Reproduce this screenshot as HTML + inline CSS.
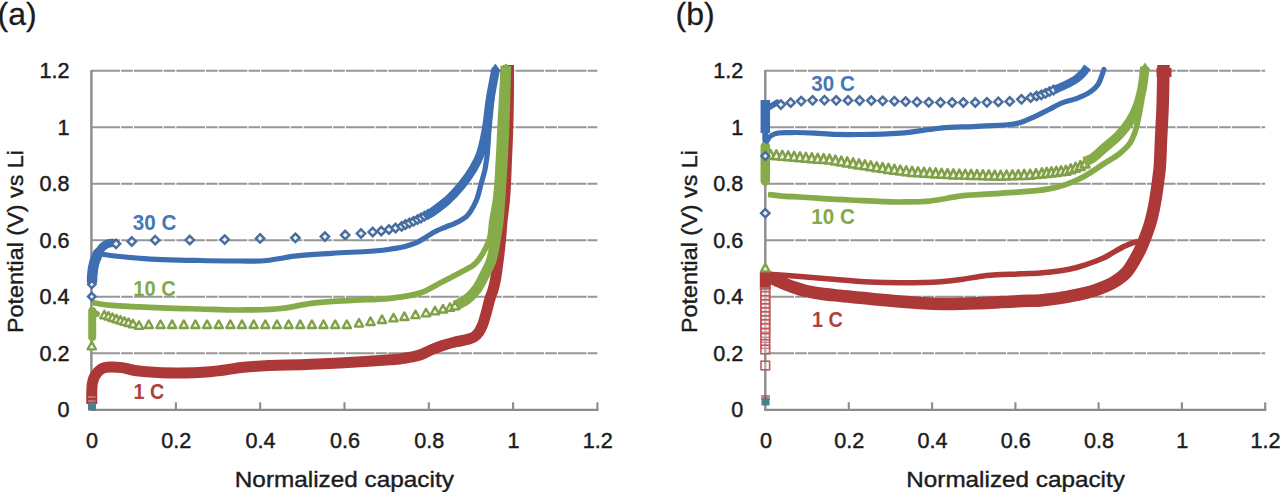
<!DOCTYPE html>
<html><head><meta charset="utf-8"><title>Potential vs normalized capacity</title>
<style>
html,body{margin:0;padding:0;background:#fff;width:1280px;height:492px;overflow:hidden}
svg{display:block}
text{font-family:"Liberation Sans",sans-serif}
.tk{font-size:21.6px;fill:#1c1c1c;stroke:#1c1c1c;stroke-width:0.45px}
.ax{font-size:22.4px;fill:#1c1c1c;stroke:#1c1c1c;stroke-width:0.4px}
.pl{font-size:32px;fill:#1c1c1c;stroke:#1c1c1c;stroke-width:0.3px}
.sl{font-size:22px;font-weight:bold}
</style></head><body>
<svg width="1280" height="492" viewBox="0 0 1280 492">
<rect width="1280" height="492" fill="#fff"/>
<line x1="91.6" y1="353.3" x2="597.4" y2="353.3" stroke="#979797" stroke-width="2" stroke-dasharray="28.5 1.2 11.5 1.2"/>
<line x1="91.6" y1="296.8" x2="597.4" y2="296.8" stroke="#979797" stroke-width="2" stroke-dasharray="28.5 1.2 11.5 1.2"/>
<line x1="91.6" y1="240.3" x2="597.4" y2="240.3" stroke="#979797" stroke-width="2" stroke-dasharray="28.5 1.2 11.5 1.2"/>
<line x1="91.6" y1="183.8" x2="597.4" y2="183.8" stroke="#979797" stroke-width="2" stroke-dasharray="28.5 1.2 11.5 1.2"/>
<line x1="91.6" y1="127.3" x2="597.4" y2="127.3" stroke="#979797" stroke-width="2" stroke-dasharray="28.5 1.2 11.5 1.2"/>
<line x1="91.6" y1="70.8" x2="597.4" y2="70.8" stroke="#979797" stroke-width="2" stroke-dasharray="28.5 1.2 11.5 1.2"/>
<line x1="91.39999999999999" y1="70" x2="91.39999999999999" y2="410.8" stroke="#8c8c8c" stroke-width="2.4"/>
<line x1="90.39999999999999" y1="409.8" x2="598.4" y2="409.8" stroke="#8c8c8c" stroke-width="2.3"/>
<line x1="175.9" y1="402.3" x2="175.9" y2="409.8" stroke="#8c8c8c" stroke-width="2.1"/>
<line x1="260.2" y1="402.3" x2="260.2" y2="409.8" stroke="#8c8c8c" stroke-width="2.1"/>
<line x1="344.5" y1="402.3" x2="344.5" y2="409.8" stroke="#8c8c8c" stroke-width="2.1"/>
<line x1="428.8" y1="402.3" x2="428.8" y2="409.8" stroke="#8c8c8c" stroke-width="2.1"/>
<line x1="513.1" y1="402.3" x2="513.1" y2="409.8" stroke="#8c8c8c" stroke-width="2.1"/>
<line x1="597.4" y1="402.3" x2="597.4" y2="409.8" stroke="#8c8c8c" stroke-width="2.1"/>
<line x1="765.5" y1="353.3" x2="1265.2" y2="353.3" stroke="#979797" stroke-width="2" stroke-dasharray="28.5 1.2 11.5 1.2"/>
<line x1="765.5" y1="296.8" x2="1265.2" y2="296.8" stroke="#979797" stroke-width="2" stroke-dasharray="28.5 1.2 11.5 1.2"/>
<line x1="765.5" y1="240.3" x2="1265.2" y2="240.3" stroke="#979797" stroke-width="2" stroke-dasharray="28.5 1.2 11.5 1.2"/>
<line x1="765.5" y1="183.8" x2="1265.2" y2="183.8" stroke="#979797" stroke-width="2" stroke-dasharray="28.5 1.2 11.5 1.2"/>
<line x1="765.5" y1="127.3" x2="1265.2" y2="127.3" stroke="#979797" stroke-width="2" stroke-dasharray="28.5 1.2 11.5 1.2"/>
<line x1="765.5" y1="70.8" x2="1265.2" y2="70.8" stroke="#979797" stroke-width="2" stroke-dasharray="28.5 1.2 11.5 1.2"/>
<line x1="765.3" y1="70" x2="765.3" y2="410.8" stroke="#8c8c8c" stroke-width="2.4"/>
<line x1="764.3" y1="409.8" x2="1266.2" y2="409.8" stroke="#8c8c8c" stroke-width="2.3"/>
<line x1="848.8" y1="402.3" x2="848.8" y2="409.8" stroke="#8c8c8c" stroke-width="2.1"/>
<line x1="932.1" y1="402.3" x2="932.1" y2="409.8" stroke="#8c8c8c" stroke-width="2.1"/>
<line x1="1015.4" y1="402.3" x2="1015.4" y2="409.8" stroke="#8c8c8c" stroke-width="2.1"/>
<line x1="1098.6" y1="402.3" x2="1098.6" y2="409.8" stroke="#8c8c8c" stroke-width="2.1"/>
<line x1="1181.9" y1="402.3" x2="1181.9" y2="409.8" stroke="#8c8c8c" stroke-width="2.1"/>
<line x1="1265.2" y1="402.3" x2="1265.2" y2="409.8" stroke="#8c8c8c" stroke-width="2.1"/>
<path d="M91.8,404.0 C91.8,400.0 91.6,396.0 91.8,392.0 C91.9,389.0 91.8,385.9 92.4,383.0 C92.9,380.6 93.6,378.1 94.8,376.0 C95.9,374.0 97.5,371.9 99.3,370.5 C100.9,369.2 103.0,368.2 105.0,367.6 C107.2,366.9 109.7,367.0 112.0,366.9 C115.3,366.8 118.7,367.2 122.0,367.6 C126.4,368.2 130.6,369.8 135.0,370.5 C139.0,371.1 143.0,371.4 147.0,371.8 C157.0,372.7 167.0,373.0 177.0,373.0 C188.0,373.0 199.0,372.7 210.0,371.8 C221.4,370.9 232.6,368.5 244.0,367.3 C266.2,365.0 288.7,365.4 311.0,364.3 C324.7,363.7 338.3,363.1 352.0,362.3 C364.7,361.6 377.3,360.8 390.0,359.8 C393.3,359.5 396.7,359.4 400.0,359.0 C403.5,358.6 407.0,357.9 410.5,357.2 C414.1,356.4 417.8,355.7 421.3,354.5 C425.0,353.2 428.4,351.0 432.0,349.5 C435.5,348.0 439.1,346.7 442.7,345.5 C446.7,344.2 450.9,343.0 455.0,342.0 C459.0,341.0 463.1,340.7 467.0,339.5 C469.4,338.8 472.0,338.3 474.0,337.0 C475.9,335.8 477.6,333.9 479.0,332.0 C480.5,329.9 481.5,327.4 482.5,325.0 C483.9,321.6 484.8,317.9 485.8,314.4 C487.5,308.7 488.6,302.9 490.4,297.3 C491.2,294.8 492.2,292.5 493.0,290.0 C495.9,281.0 496.7,271.4 498.0,262.0 C499.0,254.7 499.8,247.3 500.5,240.0 C501.2,233.3 501.5,226.7 502.2,220.0 C502.9,213.3 503.9,206.7 504.5,200.0 C505.7,186.7 505.9,173.3 506.5,160.0 C507.0,149.0 507.5,138.0 507.8,127.0 C508.2,114.7 508.4,102.3 508.5,90.0 C508.6,81.7 508.5,73.3 508.5,65.0" fill="none" stroke="#ad3838" stroke-width="11" stroke-linecap="butt" stroke-linejoin="round"/>
<line x1="88" y1="397" x2="95.5" y2="397" stroke="#fff" stroke-opacity="0.55" stroke-width="1"/>
<line x1="88" y1="401" x2="95.5" y2="401" stroke="#fff" stroke-opacity="0.55" stroke-width="1"/>
<path d="M92.2,302.5 C94.8,303.0 97.4,303.6 100.0,304.0 C113.2,306.3 126.7,306.0 140.0,306.8 C160.0,307.9 180.0,308.4 200.0,309.0 C213.3,309.4 226.7,310.1 240.0,310.0 C253.6,309.9 267.3,310.0 280.8,308.5 C291.0,307.4 301.1,304.7 311.3,303.4 C324.8,301.7 338.4,301.2 352.0,300.3 C364.7,299.5 377.4,299.8 390.0,298.3 C400.3,297.0 410.9,296.3 420.6,292.8 C427.7,290.3 434.2,286.0 441.0,282.5 C447.5,279.2 453.9,275.9 460.3,272.4 C465.1,269.7 470.6,267.8 474.6,264.2 C477.7,261.4 480.2,257.6 482.5,254.0 C485.2,249.6 487.6,244.9 489.2,240.0 C491.2,233.7 491.0,226.6 492.0,220.0 C493.1,213.3 494.6,206.7 495.5,200.0 C497.4,186.8 497.7,173.3 498.5,160.0 C499.1,150.0 499.5,140.0 500.0,130.0 C501.1,108.7 502.3,87.3 503.5,66.0" fill="none" stroke="#85ac48" stroke-width="5.7" stroke-linecap="butt" stroke-linejoin="round"/>
<path d="M455.0,305.8 C458.7,303.9 462.7,302.4 466.0,300.0 C469.8,297.3 473.1,293.7 476.0,290.0 C479.3,285.8 481.5,280.8 484.0,276.0 C486.4,271.4 488.9,266.8 490.7,262.0 C493.3,255.0 494.2,247.4 495.5,240.0 C496.7,233.4 497.7,226.7 498.5,220.0 C499.2,213.4 499.5,206.7 500.0,200.0 C500.9,186.7 501.8,173.3 502.5,160.0 C503.1,150.0 503.6,140.0 504.0,130.0 C504.9,108.7 505.3,87.3 506.0,66.0" fill="none" stroke="#85ac48" stroke-width="10.5" stroke-linecap="butt" stroke-linejoin="round"/>
<path d="M92.2,311.0 L92.2,337.0" fill="none" stroke="#85ac48" stroke-width="8" stroke-linecap="round" stroke-linejoin="round"/>
<path d="M92.2,311.0 L97.0,314.0" fill="none" stroke="#85ac48" stroke-width="6" stroke-linecap="round" stroke-linejoin="round"/>
<path d="M104.4,310.7L108.6,318.3L100.2,318.3Z" fill="#eef6de" stroke="#7f9f48" stroke-width="2.3" stroke-linejoin="round"/>
<path d="M108.5,312.0L112.7,319.6L104.3,319.6Z" fill="#eef6de" stroke="#7f9f48" stroke-width="2.3" stroke-linejoin="round"/>
<path d="M112.5,313.4L116.7,321.0L108.3,321.0Z" fill="#eef6de" stroke="#7f9f48" stroke-width="2.3" stroke-linejoin="round"/>
<path d="M116.5,314.7L120.7,322.3L112.3,322.3Z" fill="#eef6de" stroke="#7f9f48" stroke-width="2.3" stroke-linejoin="round"/>
<path d="M120.5,316.0L124.7,323.6L116.3,323.6Z" fill="#eef6de" stroke="#7f9f48" stroke-width="2.3" stroke-linejoin="round"/>
<path d="M124.5,317.2L128.7,324.8L120.3,324.8Z" fill="#eef6de" stroke="#7f9f48" stroke-width="2.3" stroke-linejoin="round"/>
<path d="M128.5,318.4L132.7,326.0L124.3,326.0Z" fill="#eef6de" stroke="#7f9f48" stroke-width="2.3" stroke-linejoin="round"/>
<path d="M133.0,319.7L137.2,327.3L128.8,327.3Z" fill="#eef6de" stroke="#7f9f48" stroke-width="2.3" stroke-linejoin="round"/>
<path d="M139.0,321.2L143.2,328.8L134.8,328.8Z" fill="#eef6de" stroke="#7f9f48" stroke-width="2.3" stroke-linejoin="round"/>
<path d="M148.8,320.4L153.0,328.0L144.6,328.0Z" fill="#eef6de" stroke="#7f9f48" stroke-width="2.3" stroke-linejoin="round"/>
<path d="M160.5,320.4L164.7,328.0L156.3,328.0Z" fill="#eef6de" stroke="#7f9f48" stroke-width="2.3" stroke-linejoin="round"/>
<path d="M172.1,320.4L176.3,328.0L167.9,328.0Z" fill="#eef6de" stroke="#7f9f48" stroke-width="2.3" stroke-linejoin="round"/>
<path d="M183.8,320.4L188.0,328.0L179.6,328.0Z" fill="#eef6de" stroke="#7f9f48" stroke-width="2.3" stroke-linejoin="round"/>
<path d="M195.4,320.4L199.6,328.0L191.2,328.0Z" fill="#eef6de" stroke="#7f9f48" stroke-width="2.3" stroke-linejoin="round"/>
<path d="M207.1,320.4L211.3,328.0L202.9,328.0Z" fill="#eef6de" stroke="#7f9f48" stroke-width="2.3" stroke-linejoin="round"/>
<path d="M218.7,320.4L222.9,328.0L214.5,328.0Z" fill="#eef6de" stroke="#7f9f48" stroke-width="2.3" stroke-linejoin="round"/>
<path d="M230.4,320.4L234.6,328.0L226.2,328.0Z" fill="#eef6de" stroke="#7f9f48" stroke-width="2.3" stroke-linejoin="round"/>
<path d="M242.0,320.4L246.2,328.0L237.8,328.0Z" fill="#eef6de" stroke="#7f9f48" stroke-width="2.3" stroke-linejoin="round"/>
<path d="M253.7,320.4L257.9,328.0L249.5,328.0Z" fill="#eef6de" stroke="#7f9f48" stroke-width="2.3" stroke-linejoin="round"/>
<path d="M265.3,320.4L269.5,328.0L261.1,328.0Z" fill="#eef6de" stroke="#7f9f48" stroke-width="2.3" stroke-linejoin="round"/>
<path d="M277.0,320.4L281.2,328.0L272.8,328.0Z" fill="#eef6de" stroke="#7f9f48" stroke-width="2.3" stroke-linejoin="round"/>
<path d="M288.6,320.4L292.8,328.0L284.4,328.0Z" fill="#eef6de" stroke="#7f9f48" stroke-width="2.3" stroke-linejoin="round"/>
<path d="M300.2,320.4L304.4,328.0L296.1,328.0Z" fill="#eef6de" stroke="#7f9f48" stroke-width="2.3" stroke-linejoin="round"/>
<path d="M311.9,320.4L316.1,328.0L307.7,328.0Z" fill="#eef6de" stroke="#7f9f48" stroke-width="2.3" stroke-linejoin="round"/>
<path d="M323.5,320.4L327.7,328.0L319.3,328.0Z" fill="#eef6de" stroke="#7f9f48" stroke-width="2.3" stroke-linejoin="round"/>
<path d="M335.2,320.4L339.4,328.0L331.0,328.0Z" fill="#eef6de" stroke="#7f9f48" stroke-width="2.3" stroke-linejoin="round"/>
<path d="M346.8,320.4L351.0,328.0L342.6,328.0Z" fill="#eef6de" stroke="#7f9f48" stroke-width="2.3" stroke-linejoin="round"/>
<path d="M359.0,319.0L363.2,326.6L354.8,326.6Z" fill="#eef6de" stroke="#7f9f48" stroke-width="2.3" stroke-linejoin="round"/>
<path d="M370.5,317.4L374.7,325.0L366.3,325.0Z" fill="#eef6de" stroke="#7f9f48" stroke-width="2.3" stroke-linejoin="round"/>
<path d="M382.0,315.4L386.2,323.0L377.8,323.0Z" fill="#eef6de" stroke="#7f9f48" stroke-width="2.3" stroke-linejoin="round"/>
<path d="M393.5,313.8L397.7,321.4L389.3,321.4Z" fill="#eef6de" stroke="#7f9f48" stroke-width="2.3" stroke-linejoin="round"/>
<path d="M404.4,312.4L408.6,320.0L400.2,320.0Z" fill="#eef6de" stroke="#7f9f48" stroke-width="2.3" stroke-linejoin="round"/>
<path d="M415.5,310.6L419.7,318.2L411.3,318.2Z" fill="#eef6de" stroke="#7f9f48" stroke-width="2.3" stroke-linejoin="round"/>
<path d="M426.0,308.7L430.2,316.3L421.8,316.3Z" fill="#eef6de" stroke="#7f9f48" stroke-width="2.3" stroke-linejoin="round"/>
<path d="M435.0,306.8L439.2,314.4L430.8,314.4Z" fill="#eef6de" stroke="#7f9f48" stroke-width="2.3" stroke-linejoin="round"/>
<path d="M443.0,304.9L447.2,312.5L438.8,312.5Z" fill="#eef6de" stroke="#7f9f48" stroke-width="2.3" stroke-linejoin="round"/>
<path d="M450.0,303.2L454.2,310.8L445.8,310.8Z" fill="#eef6de" stroke="#7f9f48" stroke-width="2.3" stroke-linejoin="round"/>
<path d="M455.0,301.7L459.2,309.3L450.8,309.3Z" fill="#eef6de" stroke="#7f9f48" stroke-width="2.3" stroke-linejoin="round"/>
<path d="M91.8,341.7L96.0,349.3L87.6,349.3Z" fill="#eef6de" stroke="#7f9f48" stroke-width="2.3" stroke-linejoin="round"/>
<path d="M101.5,254.0 C106.0,254.7 110.5,255.4 115.0,256.0 C123.3,257.1 131.7,257.7 140.0,258.3 C160.0,259.8 180.0,260.1 200.0,260.5 C213.3,260.8 226.7,260.9 240.0,261.0 C246.8,261.0 253.7,261.3 260.5,261.0 C272.7,260.4 284.8,257.2 297.0,255.9 C308.5,254.7 320.1,254.1 331.6,253.3 C351.1,251.9 370.7,252.2 390.0,249.2 C395.0,248.4 400.1,247.8 405.0,246.5 C408.5,245.6 412.0,244.6 415.3,243.2 C418.9,241.7 422.1,239.4 425.5,237.4 C428.9,235.4 432.2,233.1 435.7,231.3 C439.0,229.7 442.4,228.4 445.8,227.0 C448.9,225.7 452.0,224.7 455.0,223.3 C459.1,221.3 463.4,219.3 466.6,216.3 C471.0,212.2 473.8,206.1 476.3,200.5 C478.7,195.1 479.6,189.1 481.2,183.4 C482.5,178.9 483.9,174.5 484.9,170.0 C485.8,165.7 486.3,161.3 486.9,157.0 C488.1,148.1 488.2,139.0 489.0,130.0 C490.7,110.0 493.0,90.0 495.0,70.0" fill="none" stroke="#3d6eb2" stroke-width="5.2" stroke-linecap="round" stroke-linejoin="round"/>
<path d="M92.0,281.0 C92.1,278.9 92.1,276.8 92.3,274.7 C92.6,270.9 93.1,267.0 94.1,263.3 C95.0,259.9 96.7,256.7 98.0,253.4" fill="none" stroke="#3d6eb2" stroke-width="10.5" stroke-linecap="round" stroke-linejoin="round"/>
<path d="M94.1,263.3 C95.4,260.0 96.3,256.5 98.0,253.4 C99.4,251.0 100.9,248.4 103.0,246.6 C104.5,245.4 106.2,244.2 108.0,243.6 C109.3,243.2 110.7,243.1 112.0,242.8" fill="none" stroke="#3d6eb2" stroke-width="8.5" stroke-linecap="round" stroke-linejoin="round"/>
<path d="M91.8,292.8L95.6,296.6L91.8,300.4L88.0,296.6Z" fill="#e6f0fa" stroke="#4a6c9c" stroke-width="2.4"/>
<path d="M91.8,280.9L95.4,284.5L91.8,288.1L88.2,284.5Z" fill="#e6f0fa" stroke="#4a6c9c" stroke-width="2.4"/>
<path d="M116.0,239.6L120.2,243.8L116.0,248.0L111.8,243.8Z" fill="#e6f0fa" stroke="#4a6c9c" stroke-width="2.4"/>
<path d="M131.8,237.3L136.0,241.5L131.8,245.7L127.6,241.5Z" fill="#e6f0fa" stroke="#4a6c9c" stroke-width="2.4"/>
<path d="M155.2,236.0L159.4,240.2L155.2,244.4L151.0,240.2Z" fill="#e6f0fa" stroke="#4a6c9c" stroke-width="2.4"/>
<path d="M189.8,235.8L194.0,240.0L189.8,244.2L185.6,240.0Z" fill="#e6f0fa" stroke="#4a6c9c" stroke-width="2.4"/>
<path d="M224.7,235.4L228.9,239.6L224.7,243.8L220.5,239.6Z" fill="#e6f0fa" stroke="#4a6c9c" stroke-width="2.4"/>
<path d="M260.1,234.2L264.3,238.4L260.1,242.6L255.9,238.4Z" fill="#e6f0fa" stroke="#4a6c9c" stroke-width="2.4"/>
<path d="M295.4,233.6L299.6,237.8L295.4,242.0L291.2,237.8Z" fill="#e6f0fa" stroke="#4a6c9c" stroke-width="2.4"/>
<path d="M324.9,232.4L329.1,236.6L324.9,240.8L320.7,236.6Z" fill="#e6f0fa" stroke="#4a6c9c" stroke-width="2.4"/>
<path d="M345.2,230.8L349.4,235.0L345.2,239.2L341.0,235.0Z" fill="#e6f0fa" stroke="#4a6c9c" stroke-width="2.4"/>
<path d="M361.0,229.3L365.2,233.5L361.0,237.7L356.8,233.5Z" fill="#e6f0fa" stroke="#4a6c9c" stroke-width="2.4"/>
<path d="M372.7,227.8L376.9,232.0L372.7,236.2L368.5,232.0Z" fill="#e6f0fa" stroke="#4a6c9c" stroke-width="2.4"/>
<path d="M381.3,226.8L385.5,231.0L381.3,235.2L377.1,231.0Z" fill="#e6f0fa" stroke="#4a6c9c" stroke-width="2.4"/>
<path d="M389.0,225.3L393.2,229.5L389.0,233.7L384.8,229.5Z" fill="#e6f0fa" stroke="#4a6c9c" stroke-width="2.4"/>
<path d="M395.6,223.8L399.8,228.0L395.6,232.2L391.4,228.0Z" fill="#e6f0fa" stroke="#4a6c9c" stroke-width="2.4"/>
<path d="M401.7,222.2L405.9,226.4L401.7,230.6L397.5,226.4Z" fill="#e6f0fa" stroke="#4a6c9c" stroke-width="2.4"/>
<path d="M405.5,220.3L409.7,224.5L405.5,228.7L401.3,224.5Z" fill="#e6f0fa" stroke="#4a6c9c" stroke-width="2.4"/>
<path d="M409.5,218.8L413.7,223.0L409.5,227.2L405.3,223.0Z" fill="#e6f0fa" stroke="#4a6c9c" stroke-width="2.4"/>
<path d="M413.5,217.1L417.7,221.3L413.5,225.5L409.3,221.3Z" fill="#e6f0fa" stroke="#4a6c9c" stroke-width="2.4"/>
<path d="M417.5,215.4L421.7,219.6L417.5,223.8L413.3,219.6Z" fill="#e6f0fa" stroke="#4a6c9c" stroke-width="2.4"/>
<path d="M421.0,213.8L425.2,218.0L421.0,222.2L416.8,218.0Z" fill="#e6f0fa" stroke="#4a6c9c" stroke-width="2.4"/>
<path d="M424.5,212.0L428.7,216.2L424.5,220.4L420.3,216.2Z" fill="#e6f0fa" stroke="#4a6c9c" stroke-width="2.4"/>
<path d="M428.0,210.2L432.2,214.4L428.0,218.6L423.8,214.4Z" fill="#e6f0fa" stroke="#4a6c9c" stroke-width="2.4"/>
<path d="M430.8,213.0 C436.2,208.9 442.0,205.3 447.0,200.8 C452.2,196.2 456.9,191.0 461.3,185.6 C465.8,180.1 470.0,174.4 473.5,168.3 C475.9,164.0 478.2,159.6 480.0,155.0 C483.1,147.1 484.4,138.4 486.0,130.0 C487.9,120.1 488.4,110.0 490.0,100.0 C491.5,90.3 493.5,80.7 495.3,71.0" fill="none" stroke="#3d6eb2" stroke-width="8.8" stroke-linecap="round" stroke-linejoin="round"/>
<path d="M428.0,214.5 C428.9,214.0 429.9,213.5 430.8,213.0 C436.7,209.7 441.6,204.9 447.0,200.8" fill="none" stroke="#3d6eb2" stroke-width="8.8" stroke-linecap="round" stroke-linejoin="round"/>
<path d="M495.3,63.5 L501,71.5 L490,71.5Z" fill="#3d6eb2"/>
<path d="M506,63.5 L510,67 L502,67Z" fill="#85ac48"/>
<rect x="88" y="402.5" width="8" height="8" fill="#4f7d92"/>
<path d="M765.3,272.0 L765.3,290.0" fill="none" stroke="#ad3838" stroke-width="11" stroke-linecap="butt" stroke-linejoin="round"/>
<rect x="761.0" y="287.7" width="8.6" height="8.6" fill="#fff" fill-opacity="0.3" stroke="#c05a5c" stroke-width="1.6"/>
<rect x="761.0" y="291.7" width="8.6" height="8.6" fill="#fff" fill-opacity="0.3" stroke="#c05a5c" stroke-width="1.6"/>
<rect x="761.0" y="295.7" width="8.6" height="8.6" fill="#fff" fill-opacity="0.3" stroke="#c05a5c" stroke-width="1.6"/>
<rect x="761.0" y="299.7" width="8.6" height="8.6" fill="#fff" fill-opacity="0.3" stroke="#c05a5c" stroke-width="1.6"/>
<rect x="761.0" y="303.7" width="8.6" height="8.6" fill="#fff" fill-opacity="0.3" stroke="#c05a5c" stroke-width="1.6"/>
<rect x="761.0" y="307.7" width="8.6" height="8.6" fill="#fff" fill-opacity="0.3" stroke="#c05a5c" stroke-width="1.6"/>
<rect x="761.0" y="311.7" width="8.6" height="8.6" fill="#fff" fill-opacity="0.3" stroke="#c05a5c" stroke-width="1.6"/>
<rect x="761.0" y="315.7" width="8.6" height="8.6" fill="#fff" fill-opacity="0.3" stroke="#c05a5c" stroke-width="1.6"/>
<rect x="761.0" y="319.7" width="8.6" height="8.6" fill="#fff" fill-opacity="0.3" stroke="#c05a5c" stroke-width="1.6"/>
<rect x="761.0" y="323.7" width="8.6" height="8.6" fill="#fff" fill-opacity="0.3" stroke="#c05a5c" stroke-width="1.6"/>
<rect x="761.0" y="328.7" width="8.6" height="8.6" fill="#fff" fill-opacity="0.3" stroke="#c05a5c" stroke-width="1.6"/>
<rect x="761.0" y="333.7" width="8.6" height="8.6" fill="#fff" fill-opacity="0.3" stroke="#c05a5c" stroke-width="1.6"/>
<rect x="761.0" y="339.7" width="8.6" height="8.6" fill="#fff" fill-opacity="0.3" stroke="#c05a5c" stroke-width="1.6"/>
<rect x="761.0" y="345.2" width="8.6" height="8.6" fill="#fff" fill-opacity="0.3" stroke="#c05a5c" stroke-width="1.6"/>
<rect x="761.0" y="361.2" width="8.6" height="8.6" fill="#fff" fill-opacity="0.3" stroke="#c05a5c" stroke-width="1.6"/>
<rect x="761" y="395" width="9" height="5" fill="#ad3838" fill-opacity="0.6"/>
<path d="M768.0,274.2 C778.7,275.0 789.3,275.7 800.0,276.5 C810.0,277.3 820.0,278.2 830.0,279.0 C843.3,280.1 856.6,281.4 870.0,282.0 C880.0,282.5 890.0,282.7 900.0,282.7 C913.6,282.7 927.2,282.7 940.7,281.7 C947.5,281.2 954.3,280.5 961.0,279.6 C967.8,278.7 974.5,277.1 981.3,276.2 C994.8,274.4 1008.4,274.5 1022.0,273.8 C1028.0,273.5 1034.0,273.5 1040.0,273.0 C1052.3,272.0 1064.7,270.7 1076.6,267.5 C1082.8,265.9 1088.8,263.8 1094.8,261.5 C1098.2,260.2 1101.7,259.0 1105.0,257.3 C1107.8,255.9 1110.4,254.1 1113.1,252.5 C1117.0,250.3 1120.9,247.9 1125.0,246.0 C1128.4,244.5 1131.9,242.9 1135.5,242.0 C1137.6,241.5 1139.8,241.3 1142.0,241.0" fill="none" stroke="#ad3838" stroke-width="5.5" stroke-linecap="round" stroke-linejoin="round"/>
<path d="M767.0,276.5 C770.0,277.7 773.0,278.8 776.0,280.0 C779.0,281.3 782.0,282.8 785.0,284.0 C788.6,285.5 792.3,286.8 796.0,288.0 C799.3,289.1 802.6,290.2 806.0,291.0 C810.6,292.1 815.3,292.8 820.0,293.5 C826.6,294.5 833.3,295.1 840.0,295.8 C850.0,296.9 860.0,297.8 870.0,298.8 C880.0,299.7 890.0,300.7 900.0,301.5 C913.5,302.6 927.1,303.7 940.7,304.0 C954.2,304.3 967.8,303.7 981.3,303.2 C994.9,302.7 1008.4,301.5 1022.0,301.0 C1028.0,300.8 1034.0,300.8 1040.0,300.4 C1052.3,299.5 1064.6,297.5 1076.6,294.9 C1082.7,293.6 1088.9,292.3 1094.8,290.3 C1101.7,288.0 1108.9,285.4 1115.0,281.5 C1119.2,278.8 1123.5,275.7 1126.8,272.0 C1129.7,268.8 1131.8,264.8 1134.0,261.1 C1136.5,257.0 1138.8,252.7 1140.8,248.3 C1143.0,243.6 1144.8,238.8 1146.6,234.0 C1147.8,230.7 1149.0,227.4 1150.0,224.0 C1151.8,218.1 1153.1,212.0 1154.3,206.0 C1155.8,198.6 1156.8,191.2 1157.8,183.7 C1158.4,179.1 1159.0,174.6 1159.5,170.0 C1160.5,160.0 1160.5,150.0 1161.0,140.0 C1161.5,130.0 1162.1,120.0 1162.5,110.0 C1163.1,95.0 1163.2,80.0 1163.5,65.0" fill="none" stroke="#ad3838" stroke-width="12.5" stroke-linecap="butt" stroke-linejoin="round"/>
<rect x="1156.5" y="68" width="15" height="9" fill="#ad3838"/>
<line x1="62.0" y1="84" x2="68.0" y2="84" stroke="#fff" stroke-opacity="0.5" stroke-width="1.2"/>
<line x1="62.0" y1="95" x2="68.0" y2="95" stroke="#fff" stroke-opacity="0.5" stroke-width="1.2"/>
<line x1="62.0" y1="107" x2="68.0" y2="107" stroke="#fff" stroke-opacity="0.5" stroke-width="1.2"/>
<line x1="62.0" y1="121" x2="68.0" y2="121" stroke="#fff" stroke-opacity="0.5" stroke-width="1.2"/>
<line x1="62.0" y1="135" x2="68.0" y2="135" stroke="#fff" stroke-opacity="0.5" stroke-width="1.2"/>
<line x1="62.0" y1="150" x2="68.0" y2="150" stroke="#fff" stroke-opacity="0.5" stroke-width="1.2"/>
<line x1="62.0" y1="163" x2="68.0" y2="163" stroke="#fff" stroke-opacity="0.5" stroke-width="1.2"/>
<line x1="62.0" y1="176" x2="68.0" y2="176" stroke="#fff" stroke-opacity="0.5" stroke-width="1.2"/>
<path d="M768.0,194.5 C772.0,194.9 776.0,195.4 780.0,195.8 C786.6,196.4 793.3,196.6 800.0,197.0 C816.7,198.0 833.3,199.2 850.0,200.0 C866.7,200.8 883.3,202.1 900.0,202.0 C910.2,201.9 920.4,202.0 930.5,201.0 C940.7,200.0 950.8,197.2 961.0,195.9 C973.9,194.3 987.0,194.2 1000.0,193.3 C1010.0,192.6 1020.0,192.2 1030.0,191.2 C1036.8,190.5 1043.6,190.0 1050.3,188.6 C1055.5,187.6 1060.6,186.3 1065.6,184.6 C1069.0,183.4 1072.4,182.0 1075.7,180.5 C1079.2,178.9 1082.6,177.2 1085.9,175.4 C1092.3,171.9 1098.1,167.4 1104.2,163.5 C1109.1,160.3 1114.5,157.7 1119.0,154.0 C1123.0,150.7 1127.2,147.3 1130.0,143.0 C1132.0,140.0 1133.4,136.4 1134.7,133.0 C1136.2,128.8 1137.0,124.4 1138.0,120.0 C1139.6,112.7 1140.9,105.4 1142.0,98.0 C1143.5,87.7 1144.0,77.3 1145.0,67.0" fill="none" stroke="#85ac48" stroke-width="5.7" stroke-linecap="butt" stroke-linejoin="round"/>
<path d="M770.5,149.8L774.9,158.8L766.1,158.8Z" fill="#eef6de" stroke="#7f9f48" stroke-width="2.5" stroke-linejoin="round"/>
<path d="M776.4,150.3L780.8,159.3L772.0,159.3Z" fill="#eef6de" stroke="#7f9f48" stroke-width="2.5" stroke-linejoin="round"/>
<path d="M782.3,150.8L786.7,159.8L777.9,159.8Z" fill="#eef6de" stroke="#7f9f48" stroke-width="2.5" stroke-linejoin="round"/>
<path d="M788.2,151.3L792.6,160.3L783.8,160.3Z" fill="#eef6de" stroke="#7f9f48" stroke-width="2.5" stroke-linejoin="round"/>
<path d="M794.1,151.8L798.5,160.8L789.7,160.8Z" fill="#eef6de" stroke="#7f9f48" stroke-width="2.5" stroke-linejoin="round"/>
<path d="M800.0,152.3L804.4,161.3L795.6,161.3Z" fill="#eef6de" stroke="#7f9f48" stroke-width="2.5" stroke-linejoin="round"/>
<path d="M805.9,152.8L810.3,161.8L801.5,161.8Z" fill="#eef6de" stroke="#7f9f48" stroke-width="2.5" stroke-linejoin="round"/>
<path d="M811.8,153.2L816.2,162.2L807.4,162.2Z" fill="#eef6de" stroke="#7f9f48" stroke-width="2.5" stroke-linejoin="round"/>
<path d="M817.7,153.7L822.1,162.7L813.3,162.7Z" fill="#eef6de" stroke="#7f9f48" stroke-width="2.5" stroke-linejoin="round"/>
<path d="M823.6,154.1L828.0,163.1L819.2,163.1Z" fill="#eef6de" stroke="#7f9f48" stroke-width="2.5" stroke-linejoin="round"/>
<path d="M829.5,154.6L833.9,163.6L825.1,163.6Z" fill="#eef6de" stroke="#7f9f48" stroke-width="2.5" stroke-linejoin="round"/>
<path d="M835.4,155.5L839.8,164.5L831.0,164.5Z" fill="#eef6de" stroke="#7f9f48" stroke-width="2.5" stroke-linejoin="round"/>
<path d="M841.3,156.5L845.7,165.5L836.9,165.5Z" fill="#eef6de" stroke="#7f9f48" stroke-width="2.5" stroke-linejoin="round"/>
<path d="M847.2,157.4L851.6,166.4L842.8,166.4Z" fill="#eef6de" stroke="#7f9f48" stroke-width="2.5" stroke-linejoin="round"/>
<path d="M853.1,158.4L857.5,167.4L848.7,167.4Z" fill="#eef6de" stroke="#7f9f48" stroke-width="2.5" stroke-linejoin="round"/>
<path d="M859.0,159.4L863.4,168.4L854.6,168.4Z" fill="#eef6de" stroke="#7f9f48" stroke-width="2.5" stroke-linejoin="round"/>
<path d="M864.9,160.3L869.3,169.3L860.5,169.3Z" fill="#eef6de" stroke="#7f9f48" stroke-width="2.5" stroke-linejoin="round"/>
<path d="M870.8,161.3L875.2,170.3L866.4,170.3Z" fill="#eef6de" stroke="#7f9f48" stroke-width="2.5" stroke-linejoin="round"/>
<path d="M876.7,162.3L881.1,171.3L872.3,171.3Z" fill="#eef6de" stroke="#7f9f48" stroke-width="2.5" stroke-linejoin="round"/>
<path d="M882.6,163.1L887.0,172.1L878.2,172.1Z" fill="#eef6de" stroke="#7f9f48" stroke-width="2.5" stroke-linejoin="round"/>
<path d="M888.5,163.9L892.9,172.9L884.1,172.9Z" fill="#eef6de" stroke="#7f9f48" stroke-width="2.5" stroke-linejoin="round"/>
<path d="M894.4,164.7L898.8,173.7L890.0,173.7Z" fill="#eef6de" stroke="#7f9f48" stroke-width="2.5" stroke-linejoin="round"/>
<path d="M900.3,165.5L904.7,174.5L895.9,174.5Z" fill="#eef6de" stroke="#7f9f48" stroke-width="2.5" stroke-linejoin="round"/>
<path d="M906.2,166.3L910.6,175.3L901.8,175.3Z" fill="#eef6de" stroke="#7f9f48" stroke-width="2.5" stroke-linejoin="round"/>
<path d="M912.1,166.9L916.5,175.9L907.7,175.9Z" fill="#eef6de" stroke="#7f9f48" stroke-width="2.5" stroke-linejoin="round"/>
<path d="M918.0,167.3L922.4,176.3L913.6,176.3Z" fill="#eef6de" stroke="#7f9f48" stroke-width="2.5" stroke-linejoin="round"/>
<path d="M923.9,167.7L928.3,176.7L919.5,176.7Z" fill="#eef6de" stroke="#7f9f48" stroke-width="2.5" stroke-linejoin="round"/>
<path d="M929.8,168.0L934.2,177.0L925.4,177.0Z" fill="#eef6de" stroke="#7f9f48" stroke-width="2.5" stroke-linejoin="round"/>
<path d="M935.7,168.4L940.1,177.4L931.3,177.4Z" fill="#eef6de" stroke="#7f9f48" stroke-width="2.5" stroke-linejoin="round"/>
<path d="M941.6,168.8L946.0,177.8L937.2,177.8Z" fill="#eef6de" stroke="#7f9f48" stroke-width="2.5" stroke-linejoin="round"/>
<path d="M947.5,169.1L951.9,178.1L943.1,178.1Z" fill="#eef6de" stroke="#7f9f48" stroke-width="2.5" stroke-linejoin="round"/>
<path d="M953.4,169.4L957.8,178.4L949.0,178.4Z" fill="#eef6de" stroke="#7f9f48" stroke-width="2.5" stroke-linejoin="round"/>
<path d="M959.3,169.6L963.7,178.6L954.9,178.6Z" fill="#eef6de" stroke="#7f9f48" stroke-width="2.5" stroke-linejoin="round"/>
<path d="M965.2,169.7L969.6,178.7L960.8,178.7Z" fill="#eef6de" stroke="#7f9f48" stroke-width="2.5" stroke-linejoin="round"/>
<path d="M971.1,169.9L975.5,178.9L966.7,178.9Z" fill="#eef6de" stroke="#7f9f48" stroke-width="2.5" stroke-linejoin="round"/>
<path d="M977.0,170.1L981.4,179.1L972.6,179.1Z" fill="#eef6de" stroke="#7f9f48" stroke-width="2.5" stroke-linejoin="round"/>
<path d="M982.9,170.2L987.3,179.2L978.5,179.2Z" fill="#eef6de" stroke="#7f9f48" stroke-width="2.5" stroke-linejoin="round"/>
<path d="M988.8,170.4L993.2,179.4L984.4,179.4Z" fill="#eef6de" stroke="#7f9f48" stroke-width="2.5" stroke-linejoin="round"/>
<path d="M994.7,170.6L999.1,179.6L990.3,179.6Z" fill="#eef6de" stroke="#7f9f48" stroke-width="2.5" stroke-linejoin="round"/>
<path d="M1000.6,170.7L1005.0,179.7L996.2,179.7Z" fill="#eef6de" stroke="#7f9f48" stroke-width="2.5" stroke-linejoin="round"/>
<path d="M1006.5,170.5L1010.9,179.5L1002.1,179.5Z" fill="#eef6de" stroke="#7f9f48" stroke-width="2.5" stroke-linejoin="round"/>
<path d="M1012.4,170.3L1016.8,179.3L1008.0,179.3Z" fill="#eef6de" stroke="#7f9f48" stroke-width="2.5" stroke-linejoin="round"/>
<path d="M1018.3,170.1L1022.7,179.1L1013.9,179.1Z" fill="#eef6de" stroke="#7f9f48" stroke-width="2.5" stroke-linejoin="round"/>
<path d="M1024.2,169.9L1028.6,178.9L1019.8,178.9Z" fill="#eef6de" stroke="#7f9f48" stroke-width="2.5" stroke-linejoin="round"/>
<path d="M1030.1,169.7L1034.5,178.7L1025.7,178.7Z" fill="#eef6de" stroke="#7f9f48" stroke-width="2.5" stroke-linejoin="round"/>
<path d="M1036.0,169.1L1040.4,178.1L1031.6,178.1Z" fill="#eef6de" stroke="#7f9f48" stroke-width="2.5" stroke-linejoin="round"/>
<path d="M1041.9,168.4L1046.3,177.4L1037.5,177.4Z" fill="#eef6de" stroke="#7f9f48" stroke-width="2.5" stroke-linejoin="round"/>
<path d="M1046.7,167.9L1051.1,176.9L1042.3,176.9Z" fill="#eef6de" stroke="#7f9f48" stroke-width="2.5" stroke-linejoin="round"/>
<path d="M1051.5,167.4L1055.9,176.4L1047.1,176.4Z" fill="#eef6de" stroke="#7f9f48" stroke-width="2.5" stroke-linejoin="round"/>
<path d="M1056.3,166.9L1060.7,175.9L1051.9,175.9Z" fill="#eef6de" stroke="#7f9f48" stroke-width="2.5" stroke-linejoin="round"/>
<path d="M1061.1,166.3L1065.5,175.3L1056.7,175.3Z" fill="#eef6de" stroke="#7f9f48" stroke-width="2.5" stroke-linejoin="round"/>
<path d="M1065.9,165.8L1070.3,174.8L1061.5,174.8Z" fill="#eef6de" stroke="#7f9f48" stroke-width="2.5" stroke-linejoin="round"/>
<path d="M1070.7,164.3L1075.1,173.3L1066.3,173.3Z" fill="#eef6de" stroke="#7f9f48" stroke-width="2.5" stroke-linejoin="round"/>
<path d="M1075.5,162.7L1079.9,171.7L1071.1,171.7Z" fill="#eef6de" stroke="#7f9f48" stroke-width="2.5" stroke-linejoin="round"/>
<path d="M1080.3,161.1L1084.7,170.1L1075.9,170.1Z" fill="#eef6de" stroke="#7f9f48" stroke-width="2.5" stroke-linejoin="round"/>
<path d="M1085.1,158.5L1089.5,167.5L1080.7,167.5Z" fill="#eef6de" stroke="#7f9f48" stroke-width="2.5" stroke-linejoin="round"/>
<path d="M1084.0,161.5 C1086.0,160.8 1088.1,160.3 1090.0,159.5 C1095.5,157.1 1099.5,151.9 1104.2,148.0 C1109.4,143.6 1114.9,139.5 1119.5,134.5 C1123.4,130.3 1127.0,125.8 1130.0,121.0 C1132.9,116.4 1135.4,111.5 1137.3,106.4 C1139.3,101.1 1140.6,95.5 1141.8,90.0 C1143.4,82.4 1143.9,74.7 1145.0,67.0" fill="none" stroke="#85ac48" stroke-width="9.5" stroke-linecap="butt" stroke-linejoin="round"/>
<path d="M1145,62.5 L1150,70 L1140,70Z" fill="#85ac48"/>
<path d="M765.3,146.0 L765.3,181.0" fill="none" stroke="#85ac48" stroke-width="9.5" stroke-linecap="round" stroke-linejoin="round"/>
<path d="M765.3,263.8L769.5,271.4L761.1,271.4Z" fill="#eef6de" stroke="#7f9f48" stroke-width="2.3" stroke-linejoin="round"/>
<path d="M767.0,141.0 C767.8,139.7 768.4,138.1 769.5,137.0 C770.8,135.7 772.7,134.8 774.4,134.0 C779.3,131.8 785.3,132.8 790.7,132.6 C798.8,132.3 806.9,132.7 815.0,133.1 C820.0,133.4 825.0,133.9 830.0,134.2 C840.0,134.7 850.0,134.6 860.0,134.5 C873.3,134.4 886.7,134.2 900.0,133.2 C913.6,132.1 927.1,129.3 940.7,128.1 C954.2,126.9 967.8,127.1 981.3,126.1 C994.9,125.1 1009.2,126.3 1022.0,122.0 C1026.1,120.6 1030.2,118.7 1034.2,116.9 C1039.0,114.7 1043.7,112.2 1048.4,109.8 C1053.2,107.4 1057.8,104.6 1062.7,102.7 C1067.3,100.9 1072.3,100.2 1076.9,98.4 C1081.8,96.5 1087.0,94.5 1091.1,91.3 C1093.7,89.3 1096.4,86.9 1098.2,84.2 C1099.9,81.7 1100.7,78.5 1101.8,75.6 C1102.6,73.6 1103.2,71.5 1103.9,69.5" fill="none" stroke="#3d6eb2" stroke-width="5.2" stroke-linecap="round" stroke-linejoin="round"/>
<path d="M765.3,100.0 L765.3,133.0" fill="none" stroke="#3d6eb2" stroke-width="9.5" stroke-linecap="butt" stroke-linejoin="round"/>
<path d="M765.3,133.0 L765.3,140.0" fill="none" stroke="#3d6eb2" stroke-width="6" stroke-linecap="round" stroke-linejoin="round"/>
<path d="M768.0,108.0 L777.0,102.5" fill="none" stroke="#3d6eb2" stroke-width="6" stroke-linecap="round" stroke-linejoin="round"/>
<path d="M765.3,152.2L769.1,156.0L765.3,159.8L761.5,156.0Z" fill="#e6f0fa" stroke="#4a6c9c" stroke-width="2.4"/>
<path d="M765.3,209.0L769.5,213.2L765.3,217.4L761.1,213.2Z" fill="#e6f0fa" stroke="#4a6c9c" stroke-width="2.4"/>
<path d="M780.9,100.4L785.1,104.6L780.9,108.8L776.7,104.6Z" fill="#e6f0fa" stroke="#4a6c9c" stroke-width="2.4"/>
<path d="M790.7,98.5L794.9,102.7L790.7,106.9L786.5,102.7Z" fill="#e6f0fa" stroke="#4a6c9c" stroke-width="2.4"/>
<path d="M801.2,96.9L805.4,101.1L801.2,105.3L797.0,101.1Z" fill="#e6f0fa" stroke="#4a6c9c" stroke-width="2.4"/>
<path d="M812.6,96.1L816.8,100.3L812.6,104.5L808.4,100.3Z" fill="#e6f0fa" stroke="#4a6c9c" stroke-width="2.4"/>
<path d="M824.5,96.0L828.7,100.2L824.5,104.4L820.3,100.2Z" fill="#e6f0fa" stroke="#4a6c9c" stroke-width="2.4"/>
<path d="M836.2,96.1L840.4,100.3L836.2,104.5L832.0,100.3Z" fill="#e6f0fa" stroke="#4a6c9c" stroke-width="2.4"/>
<path d="M848.0,96.2L852.2,100.4L848.0,104.6L843.8,100.4Z" fill="#e6f0fa" stroke="#4a6c9c" stroke-width="2.4"/>
<path d="M859.6,96.3L863.8,100.5L859.6,104.7L855.4,100.5Z" fill="#e6f0fa" stroke="#4a6c9c" stroke-width="2.4"/>
<path d="M871.3,96.4L875.5,100.6L871.3,104.8L867.1,100.6Z" fill="#e6f0fa" stroke="#4a6c9c" stroke-width="2.4"/>
<path d="M882.7,96.6L886.9,100.8L882.7,105.0L878.5,100.8Z" fill="#e6f0fa" stroke="#4a6c9c" stroke-width="2.4"/>
<path d="M894.4,97.0L898.6,101.2L894.4,105.4L890.2,101.2Z" fill="#e6f0fa" stroke="#4a6c9c" stroke-width="2.4"/>
<path d="M905.6,97.4L909.8,101.6L905.6,105.8L901.4,101.6Z" fill="#e6f0fa" stroke="#4a6c9c" stroke-width="2.4"/>
<path d="M917.0,97.8L921.2,102.0L917.0,106.2L912.8,102.0Z" fill="#e6f0fa" stroke="#4a6c9c" stroke-width="2.4"/>
<path d="M928.8,98.1L933.0,102.3L928.8,106.5L924.6,102.3Z" fill="#e6f0fa" stroke="#4a6c9c" stroke-width="2.4"/>
<path d="M940.5,98.3L944.7,102.5L940.5,106.7L936.3,102.5Z" fill="#e6f0fa" stroke="#4a6c9c" stroke-width="2.4"/>
<path d="M952.2,98.3L956.4,102.5L952.2,106.7L948.0,102.5Z" fill="#e6f0fa" stroke="#4a6c9c" stroke-width="2.4"/>
<path d="M963.4,98.3L967.6,102.5L963.4,106.7L959.2,102.5Z" fill="#e6f0fa" stroke="#4a6c9c" stroke-width="2.4"/>
<path d="M975.3,98.3L979.5,102.5L975.3,106.7L971.1,102.5Z" fill="#e6f0fa" stroke="#4a6c9c" stroke-width="2.4"/>
<path d="M986.9,98.1L991.1,102.3L986.9,106.5L982.7,102.3Z" fill="#e6f0fa" stroke="#4a6c9c" stroke-width="2.4"/>
<path d="M998.3,97.7L1002.5,101.9L998.3,106.1L994.1,101.9Z" fill="#e6f0fa" stroke="#4a6c9c" stroke-width="2.4"/>
<path d="M1009.7,97.2L1013.9,101.4L1009.7,105.6L1005.5,101.4Z" fill="#e6f0fa" stroke="#4a6c9c" stroke-width="2.4"/>
<path d="M1021.4,95.1L1025.6,99.3L1021.4,103.5L1017.2,99.3Z" fill="#e6f0fa" stroke="#4a6c9c" stroke-width="2.4"/>
<path d="M1030.7,93.5L1034.9,97.7L1030.7,101.9L1026.5,97.7Z" fill="#e6f0fa" stroke="#4a6c9c" stroke-width="2.4"/>
<path d="M1036.6,91.8L1040.8,96.0L1036.6,100.2L1032.4,96.0Z" fill="#e6f0fa" stroke="#4a6c9c" stroke-width="2.4"/>
<path d="M1041.3,90.7L1045.5,94.9L1041.3,99.1L1037.1,94.9Z" fill="#e6f0fa" stroke="#4a6c9c" stroke-width="2.4"/>
<path d="M1045.5,89.1L1049.7,93.3L1045.5,97.5L1041.3,93.3Z" fill="#e6f0fa" stroke="#4a6c9c" stroke-width="2.4"/>
<path d="M1049.5,87.4L1053.7,91.6L1049.5,95.8L1045.3,91.6Z" fill="#e6f0fa" stroke="#4a6c9c" stroke-width="2.4"/>
<path d="M1053.5,85.8L1057.7,90.0L1053.5,94.2L1049.3,90.0Z" fill="#e6f0fa" stroke="#4a6c9c" stroke-width="2.4"/>
<path d="M1054.0,90.0 C1056.9,88.8 1059.9,87.6 1062.7,86.3 C1067.6,84.0 1072.6,81.8 1076.9,78.5 C1078.7,77.1 1080.4,75.6 1082.0,74.0 C1084.1,71.9 1085.7,69.3 1087.5,67.0" fill="none" stroke="#3d6eb2" stroke-width="8.2" stroke-linecap="butt" stroke-linejoin="round"/>
<rect x="761.5" y="398.5" width="8" height="7" fill="#4f7d92"/>
<text x="69.6" y="417.4" text-anchor="end" class="tk">0</text>
<text x="92.0" y="448.2" text-anchor="middle" class="tk">0</text>
<text x="69.6" y="360.9" text-anchor="end" class="tk">0.2</text>
<text x="176.3" y="448.2" text-anchor="middle" class="tk">0.2</text>
<text x="69.6" y="304.4" text-anchor="end" class="tk">0.4</text>
<text x="260.6" y="448.2" text-anchor="middle" class="tk">0.4</text>
<text x="69.6" y="247.9" text-anchor="end" class="tk">0.6</text>
<text x="344.9" y="448.2" text-anchor="middle" class="tk">0.6</text>
<text x="69.6" y="191.4" text-anchor="end" class="tk">0.8</text>
<text x="429.2" y="448.2" text-anchor="middle" class="tk">0.8</text>
<text x="69.6" y="134.9" text-anchor="end" class="tk">1</text>
<text x="513.5" y="448.2" text-anchor="middle" class="tk">1</text>
<text x="69.6" y="78.4" text-anchor="end" class="tk">1.2</text>
<text x="597.8" y="448.2" text-anchor="middle" class="tk">1.2</text>
<text x="743.3" y="417.4" text-anchor="end" class="tk">0</text>
<text x="765.9" y="448.2" text-anchor="middle" class="tk">0</text>
<text x="743.3" y="360.9" text-anchor="end" class="tk">0.2</text>
<text x="849.2" y="448.2" text-anchor="middle" class="tk">0.2</text>
<text x="743.3" y="304.4" text-anchor="end" class="tk">0.4</text>
<text x="932.5" y="448.2" text-anchor="middle" class="tk">0.4</text>
<text x="743.3" y="247.9" text-anchor="end" class="tk">0.6</text>
<text x="1015.8" y="448.2" text-anchor="middle" class="tk">0.6</text>
<text x="743.3" y="191.4" text-anchor="end" class="tk">0.8</text>
<text x="1099.0" y="448.2" text-anchor="middle" class="tk">0.8</text>
<text x="743.3" y="134.9" text-anchor="end" class="tk">1</text>
<text x="1182.3" y="448.2" text-anchor="middle" class="tk">1</text>
<text x="743.3" y="78.4" text-anchor="end" class="tk">1.2</text>
<text x="1265.6" y="448.2" text-anchor="middle" class="tk">1.2</text>
<text x="-2.5" y="25.3" class="pl">(a)</text>
<text x="675.5" y="25.3" class="pl">(b)</text>
<text transform="translate(23.3,333) rotate(-90)" class="ax" textLength="183" lengthAdjust="spacingAndGlyphs">Potential (V) vs Li</text>
<text transform="translate(697.0999999999999,333) rotate(-90)" class="ax" textLength="183" lengthAdjust="spacingAndGlyphs">Potential (V) vs Li</text>
<text x="234.8" y="486.5" class="ax" textLength="219" lengthAdjust="spacingAndGlyphs">Normalized capacity</text>
<text x="906.3" y="486.5" class="ax" textLength="218.5" lengthAdjust="spacingAndGlyphs">Normalized capacity</text>
<text x="132.8" y="229.8" class="sl" fill="#4677b6" textLength="43.6" lengthAdjust="spacingAndGlyphs">30 C</text>
<text x="133.3" y="296" class="sl" fill="#84aa48" textLength="42.5" lengthAdjust="spacingAndGlyphs">10 C</text>
<text x="133.6" y="398.8" class="sl" fill="#b03f40" textLength="30.6" style="font-size:22px" lengthAdjust="spacingAndGlyphs">1 C</text>
<text x="811.3" y="91.2" class="sl" fill="#4677b6" textLength="43.5" lengthAdjust="spacingAndGlyphs">30 C</text>
<text x="811.3" y="223.8" class="sl" fill="#84aa48" textLength="43.5" lengthAdjust="spacingAndGlyphs">10 C</text>
<text x="812" y="326.8" class="sl" fill="#b03f40" textLength="30.8" style="font-size:22px" lengthAdjust="spacingAndGlyphs">1 C</text>
</svg>
</body></html>
